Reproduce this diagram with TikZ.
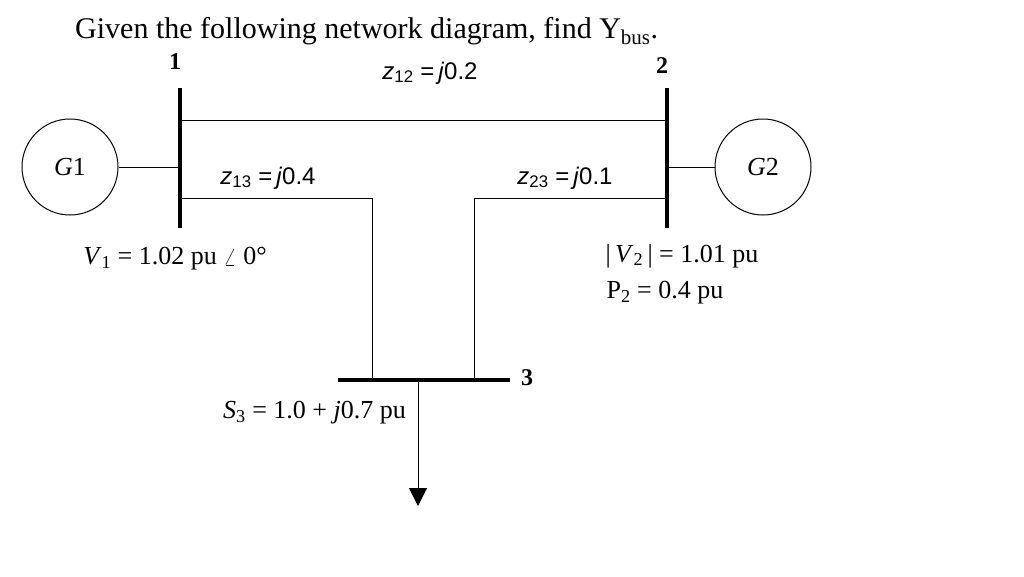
\documentclass[tikz,border=0pt]{standalone}
\usepackage{fontspec}
\setmainfont{Liberation Serif}
\newfontfamily\arial{Liberation Sans}
\usetikzlibrary{arrows.meta}
\newcommand{\sbs}[1]{\textsubscript{#1}}
\begin{document}
\begin{tikzpicture}[x=1pt,y=-1pt,
  bus/.style={line width=4.5pt},
  ln/.style={line width=1pt},
  gen/.style={circle,draw,line width=1pt,minimum size=96pt,inner sep=0pt,font=\fontsize{26}{26}\selectfont},
  lbl/.style={font=\fontsize{26}{26}\selectfont,inner sep=0pt},
  zl/.style={font=\fontsize{24}{24}\selectfont\arial,inner sep=0pt},
  num/.style={font=\fontsize{24}{24}\selectfont\bfseries,inner sep=0pt}]
\useasboundingbox (0,0) rectangle (1024,576);
\node[font=\fontsize{30}{30}\selectfont,inner sep=0pt,anchor=west] (title) at (75,31) {Given the following network diagram, find Y\textsubscript{bus}.};
\node[num] (n1) at (175,62) {1};
\node[num] (n2) at (662,66) {2};
\node[num] (n3) at (527,378) {3};
\coordinate (b1t) at (180,88); \coordinate (b1b) at (180,228);
\coordinate (b2t) at (667,88); \coordinate (b2b) at (667,228);
\coordinate (b3l) at (338,380); \coordinate (b3r) at (510,380);
\draw[bus] (b1t) -- (b1b);
\draw[bus] (b2t) -- (b2b);
\draw[bus] (b3l) -- (b3r);
\node[gen] (g1) at (70,167) {\textit{G}1};
\node[gen] (g2) at (763,167) {\textit{G}2};
\coordinate (a1) at (180,167); \coordinate (a2) at (667,167);
\draw[ln] (g1.east) -- (a1);
\draw[ln] (g2.west) -- (a2);
\coordinate (l12a) at (180,120); \coordinate (l12b) at (667,120);
\draw[ln] (l12a) -- (l12b);
\coordinate (l13a) at (180,198); \coordinate (l13b) at (372,198); \coordinate (l13c) at (372,380);
\draw[ln] (l13a) -- (l13b) -- (l13c);
\coordinate (l23a) at (667,198); \coordinate (l23b) at (474,198); \coordinate (l23c) at (474,380);
\draw[ln] (l23a) -- (l23b) -- (l23c);
\coordinate (ld1) at (418,380); \coordinate (ld2) at (418,506);
\draw[ln,-{Triangle[length=18pt,width=18pt]}] (ld1) -- (ld2);
\node[zl] (z12) at (430,73) {\textit{z}\sbs{12} =\,\textit{j}0.2};
\node[zl] (z13) at (268,178) {\textit{z}\sbs{13} =\,\textit{j}0.4};
\node[zl] (z23) at (565,178) {\textit{z}\sbs{23} =\,\textit{j}0.1};
\node[lbl] (v1) at (175,259) {\textit{V}\sbs{1} = 1.02 pu $\angle$ 0°};
\node[lbl] (v2) at (682,256) {|\,\textit{V}\sbs{2}\,| = 1.01 pu};
\node[lbl] (p2) at (665,293) {P\sbs{2} = 0.4 pu};
\node[lbl,anchor=east] (s3) at (406,413) {\textit{S}\sbs{3} = 1.0 + \textit{j}0.7 pu};
\end{tikzpicture}
\end{document}
